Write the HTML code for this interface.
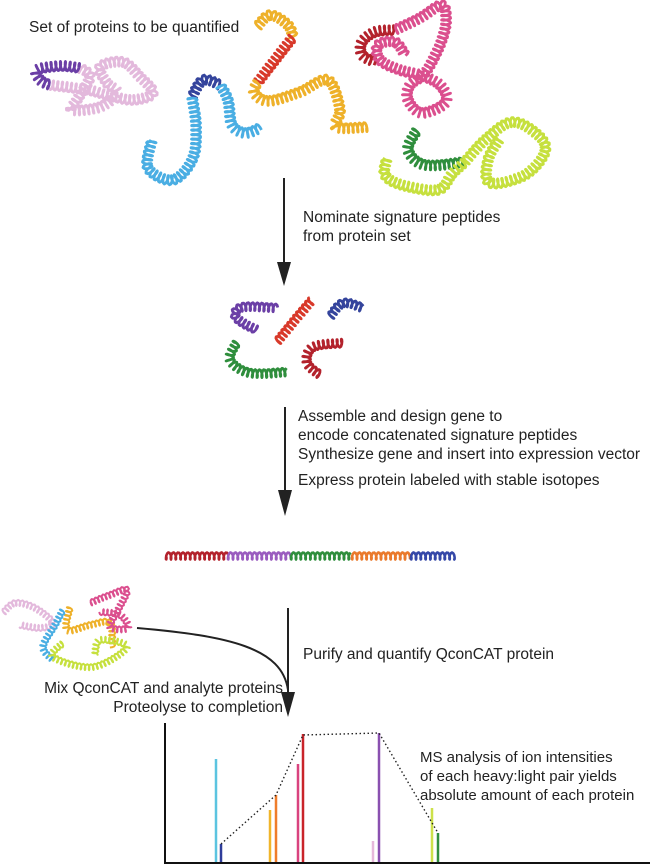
<!DOCTYPE html>
<html><head><meta charset="utf-8">
<style>
html,body{margin:0;padding:0;background:#fff}
svg{display:block}
text{font-family:"Liberation Sans",Arial,sans-serif;font-size:15.5px;fill:#222}
.ms{font-size:15px}
</style></head>
<body>
<svg id="s" width="650" height="866" viewBox="0 0 650 866" xmlns="http://www.w3.org/2000/svg">
<g id="h"></g>
<text x="29" y="32">Set of proteins to be quantified</text>
<text x="303" y="222">Nominate signature peptides</text>
<text x="303" y="241">from protein set</text>
<text x="298" y="421">Assemble and design gene to</text>
<text x="298" y="440">encode concatenated signature peptides</text>
<text x="298" y="459">Synthesize gene and insert into expression vector</text>
<text x="298" y="485">Express protein labeled with stable isotopes</text>
<text x="303" y="659">Purify and quantify QconCAT protein</text>
<text x="283" y="693" text-anchor="end">Mix QconCAT and analyte proteins</text>
<text x="283" y="712" text-anchor="end">Proteolyse to completion</text>
<text class="ms" x="420" y="762">MS analysis of ion intensities</text>
<text class="ms" x="420" y="781">of each heavy:light pair yields</text>
<text class="ms" x="420" y="800">absolute amount of each protein</text>
<g stroke="#222" stroke-width="2" fill="none">
<line x1="284" y1="178" x2="284" y2="272"/>
<line x1="285" y1="407" x2="285" y2="500"/>
<line x1="288" y1="608" x2="288" y2="700"/>
<path d="M137 628 C230 636 282 648 288 690"/>
</g>
<g fill="#222">
<path d="M277 262 L291 262 L284 286 Z"/>
<path d="M278 490 L292 490 L285 516 Z"/>
<path d="M281 692 L295 692 L288 717 Z"/>
</g>
<g stroke="#111" stroke-width="2" fill="none">
<path d="M165 723 L165 863 L650 863"/>
</g>
<g stroke-width="2.5">
<line x1="216" y1="759" x2="216" y2="862" stroke="#5bc4e0"/>
<line x1="221" y1="844" x2="221" y2="862" stroke="#2f3d9a"/>
<line x1="270" y1="810" x2="270" y2="862" stroke="#f0b52a"/>
<line x1="276" y1="795" x2="276" y2="862" stroke="#ef7d2c"/>
<line x1="298" y1="764" x2="298" y2="862" stroke="#d9437f"/>
<line x1="303" y1="734" x2="303" y2="862" stroke="#c9242a"/>
<line x1="373" y1="841" x2="373" y2="862" stroke="#e6b8da"/>
<line x1="379" y1="733" x2="379" y2="862" stroke="#8a50b0"/>
<line x1="432" y1="808" x2="432" y2="862" stroke="#cde14a"/>
<line x1="438" y1="833" x2="438" y2="862" stroke="#2f8f3e"/>
</g>
<polyline points="221,844 276,795 303,735 379,733 438,833" fill="none" stroke="#222" stroke-width="1.4" stroke-dasharray="1.5 2.5"/>
</svg>
<script>
(function(){
var g=document.getElementById('h');
function cr(p){var o=[];if(p.length<2)return p;var P=[p[0]].concat(p,[p[p.length-1]]);
for(var i=1;i<P.length-2;i++){var p0=P[i-1],p1=P[i],p2=P[i+1],p3=P[i+2];
for(var t=0;t<1;t+=0.02){var t2=t*t,t3=t2*t;
o.push([0.5*((2*p1[0])+(-p0[0]+p2[0])*t+(2*p0[0]-5*p1[0]+4*p2[0]-p3[0])*t2+(-p0[0]+3*p1[0]-3*p2[0]+p3[0])*t3),
0.5*((2*p1[1])+(-p0[1]+p2[1])*t+(2*p0[1]-5*p1[1]+4*p2[1]-p3[1])*t2+(-p0[1]+3*p1[1]-3*p2[1]+p3[1])*t3)]);}}
o.push(p[p.length-1]);return o;}
function hx(pts,col,A,P,w){A=A||4.6;P=P||4.6;w=w||2.8;var c=cr(pts);
var d="",step=0.5,acc=0;var res=[c[0]];
for(var i=1;i<c.length;i++){var dx=c[i][0]-c[i-1][0],dy=c[i][1]-c[i-1][1],L=Math.hypot(dx,dy);
acc+=L;while(acc>=step){var f=(L-(acc-step))/L;res.push([c[i-1][0]+dx*f,c[i-1][1]+dy*f]);acc-=step;}}
for(var i=0;i<res.length;i++){var a=res[Math.max(0,i-1)],b=res[Math.min(res.length-1,i+1)];
var tx=b[0]-a[0],ty=b[1]-a[1],l=Math.hypot(tx,ty)||1;var nx=-ty/l,ny=tx/l;
var ph=Math.sin(2*Math.PI*i*step/P)*A;var cc=Math.cos(2*Math.PI*i*step/P)*1.2;var x=res[i][0]+nx*ph+tx/l*cc,y=res[i][1]+ny*ph+ty/l*cc;
d+=(i?"L":"M")+x.toFixed(1)+" "+y.toFixed(1);}
var e=document.createElementNS("http://www.w3.org/2000/svg","path");
e.setAttribute("d",d);e.setAttribute("fill","none");e.setAttribute("stroke",col);e.setAttribute("stroke-width",w);e.setAttribute("stroke-linejoin","round");g.appendChild(e);}
var LI="#e3b9dc",PU="#6b3fa6",DB="#34449c",LB="#4aaee3",YE="#eeb12a",RE="#d8392a",PK="#db4f8e",DR="#b3222c",GR="#2f8e3d",LG="#c6e03e";
hx([[80,68],[90,77],[77,100],[72,110],[100,107],[117,93],[107,83],[100,67],[123,62],[140,77],[153,93],[133,100],[107,95],[88,90],[50,85]],LI);
hx([[80,68],[60,66],[37,70],[40,80],[50,85]],PU);
hx([[192,97],[203,80],[220,85]],DB);
hx([[220,85],[228,100],[232,125],[245,133],[260,128]],LB);
hx([[192,97],[196,125],[193,158],[173,180],[148,168],[152,140]],LB);
hx([[257,27],[270,15],[288,25],[293,37]],YE);
hx([[293,37],[275,60],[258,82]],RE);
hx([[258,82],[254,92],[268,101],[300,92],[328,80],[340,110],[336,127],[368,127]],YE);
hx([[395,30],[375,32],[362,42],[362,55],[375,62]],DR);
hx([[395,30],[420,18],[442,5],[446,22],[440,45],[425,73],[410,85],[408,100],[422,113],[446,102],[440,85],[420,75],[400,70],[380,60],[378,45],[395,42],[405,55]],PK);
hx([[417,130],[408,150],[425,165],[465,162]],GR);
hx([[465,162],[485,140],[512,122],[538,135],[545,152],[525,175],[490,183],[488,160],[500,138]],LG);
hx([[465,162],[452,174],[438,190],[402,185],[385,175],[387,158]],LG);
hx([[257,330],[243,323],[235,315],[243,307],[277,308]],PU,4,4.6,2.8);
hx([[277,342],[295,320],[312,300]],RE,4,4.6,2.8);
hx([[330,317],[343,303],[363,308]],DB,4,4.6,2.8);
hx([[237,342],[230,360],[250,373],[287,372]],GR,4,4.6,2.8);
hx([[343,343],[313,347],[307,363],[320,375]],DR,4,4.6,2.8);
hx([[165,556],[227,556]],DR,3.5,4.8,2.6);
hx([[227,556],[290,556]],"#9a5cbf",3.5,4.8,2.6);
hx([[290,556],[351,556]],GR,3.5,4.8,2.6);
hx([[351,556],[410,556]],"#ea7a2c",3.5,4.8,2.6);
hx([[410,556],[455,556]],"#3548a8",3.5,4.8,2.6);
hx([[3,613],[15,603],[35,608],[53,623],[40,628],[20,625]],LI,3,4,2);
hx([[70,607],[67,630],[90,625],[110,623],[112,647]],YE,3,4,2);
hx([[63,610],[55,625],[43,647],[53,660]],LB,3,4,2);
hx([[90,603],[110,595],[127,590],[118,610],[110,627],[128,628],[120,615],[100,612]],PK,3,4,2);
hx([[63,643],[53,657],[93,667],[127,647],[100,640],[95,655]],LG,3,4,2);
})();
</script>
</body></html>
